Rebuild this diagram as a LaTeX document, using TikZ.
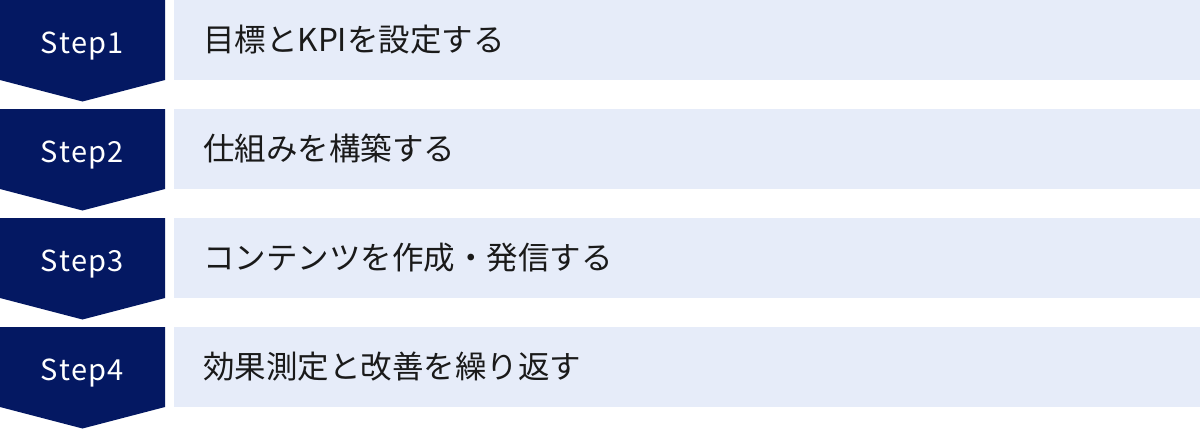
\documentclass[tikz,border=0pt]{standalone}
\usepackage{fontspec}
\setmainfont{Noto Sans CJK JP}
\definecolor{navy}{HTML}{041862}
\definecolor{paleblue}{HTML}{E6ECF9}
\definecolor{ink}{HTML}{1A1A1A}
\begin{document}
\begin{tikzpicture}[x=1pt,y=-1pt,
  steptext/.style={anchor=base,text=white,inner sep=0pt,font=\fontsize{29}{36}\selectfont},
  bartext/.style={anchor=base west,text=ink,inner sep=0pt,font=\fontsize{31.5}{38}\selectfont},
  barbox/.style={fill=paleblue,draw=none,inner sep=0pt,minimum width=1026pt,minimum height=80pt,anchor=north west}]
\useasboundingbox (0,0) rectangle (1200,429);
\foreach \n/\y in {1/0,2/109,3/218,4/327}{
  \fill[navy] (0,\y) -- (165,\y) -- (165,\y+80) -- (82.5,\y+101.5) -- (0,\y+80) -- cycle;
  \node[barbox] (bar\n) at (174,\y) {};
  \node[steptext] (step\n) at (82.5,\y+53) {S\kern1.2pt t\kern1.2pt e\kern1.2pt p\kern1.2pt \n};
}
\node[bartext] (t1) at (203,51.5) {目標とKPIを設定する};
\node[bartext] (t2) at (203,160.5) {仕組みを構築する};
\node[bartext] (t3) at (203,269.5) {コンテンツを作成・発信する};
\node[bartext] (t4) at (203,378.5) {効果測定と改善を繰り返す};
\end{tikzpicture}
\end{document}
